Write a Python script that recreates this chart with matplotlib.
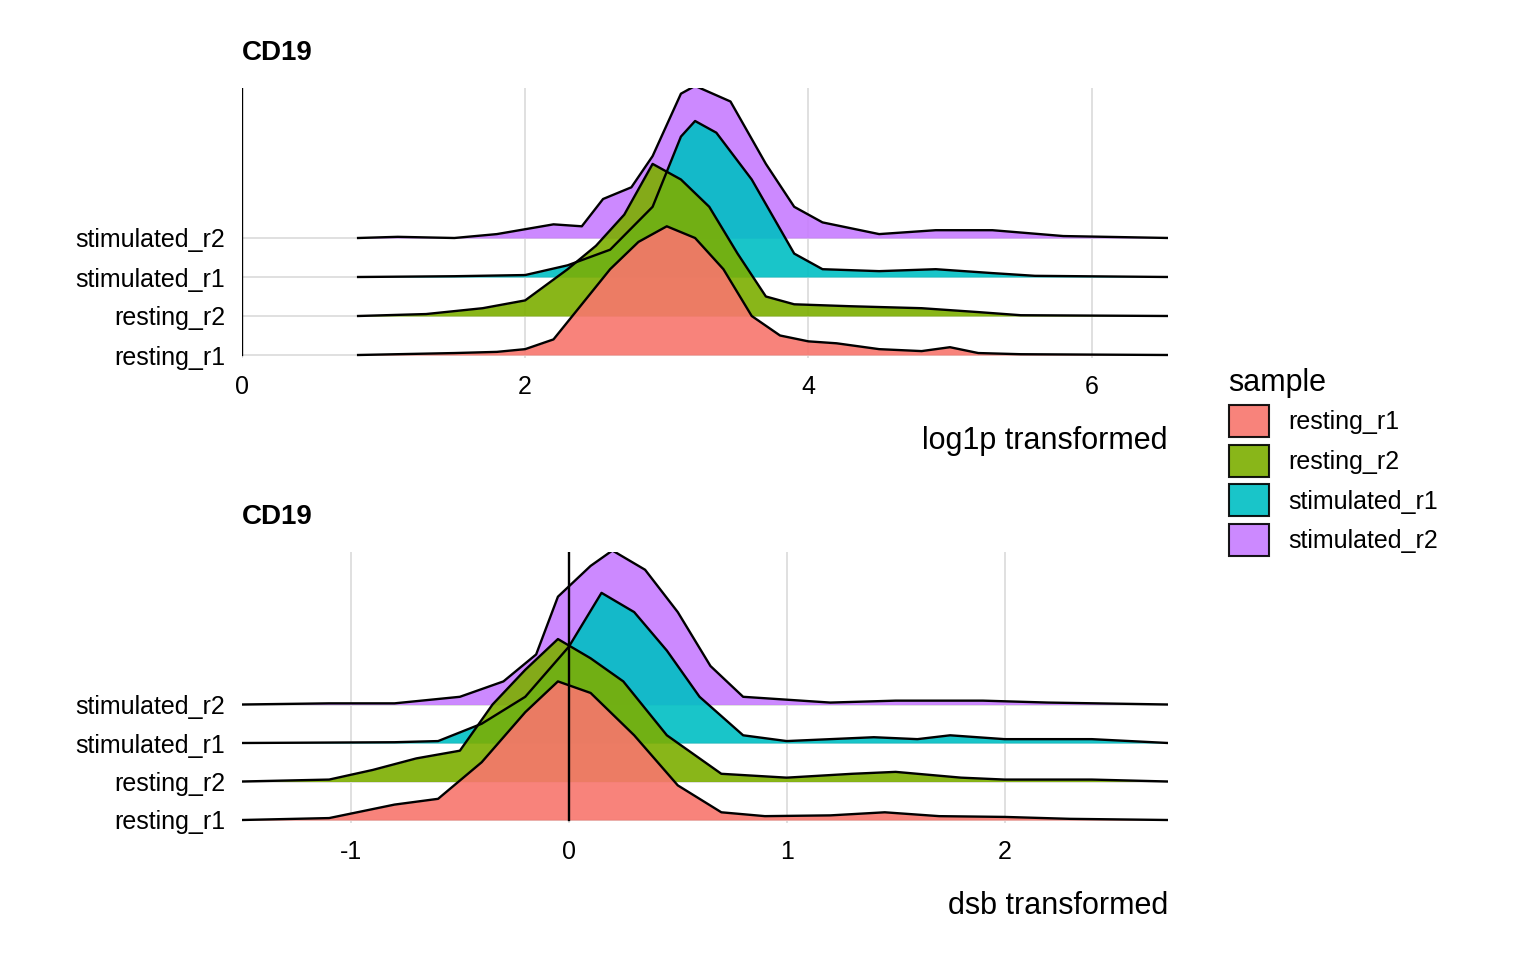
import matplotlib.pyplot as plt
from matplotlib.patches import Patch

plt.rcParams["font.family"] = ["Liberation Sans", "DejaVu Sans"]

samples = ["resting_r1", "resting_r2", "stimulated_r1", "stimulated_r2"]
colors = ["#F8766D", "#7CAE00", "#00BFC4", "#C77CFF"]

# log1p transformed: (x, height) points
log_x = [
    [0.82, 1.5, 1.8, 2.0, 2.2, 2.4, 2.6, 2.8, 3.0, 3.2, 3.4, 3.6, 3.8, 4.0, 4.2, 4.5, 4.8, 5.0, 5.2, 5.5, 6.55],
    [0.82, 1.3, 1.7, 2.0, 2.3, 2.5, 2.7, 2.9, 3.1, 3.3, 3.5, 3.7, 3.9, 4.3, 4.8, 5.2, 5.5, 6.55],
    [0.82, 1.5, 2.0, 2.3, 2.6, 2.9, 3.1, 3.2, 3.35, 3.6, 3.9, 4.1, 4.5, 4.9, 5.3, 5.6, 6.55],
    [0.82, 1.1, 1.5, 1.8, 2.2, 2.4, 2.55, 2.75, 2.9, 3.1, 3.2, 3.45, 3.7, 3.9, 4.1, 4.5, 4.9, 5.3, 5.8, 6.55],
]
log_h = [
    [0, 0.05, 0.08, 0.15, 0.4, 1.3, 2.2, 2.9, 3.3, 3.0, 2.2, 1.0, 0.5, 0.35, 0.3, 0.15, 0.1, 0.2, 0.05, 0.02, 0],
    [0, 0.05, 0.2, 0.4, 1.2, 1.8, 2.6, 3.9, 3.5, 2.8, 1.6, 0.5, 0.3, 0.25, 0.2, 0.1, 0.02, 0],
    [0, 0.02, 0.05, 0.3, 0.7, 1.8, 3.6, 4.0, 3.7, 2.5, 0.6, 0.2, 0.15, 0.2, 0.1, 0.03, 0],
    [0, 0.03, 0.0, 0.1, 0.35, 0.3, 1.0, 1.3, 2.1, 3.7, 3.9, 3.5, 1.9, 0.8, 0.4, 0.1, 0.2, 0.2, 0.05, 0],
]

# dsb transformed
dsb_x = [
    [-1.5, -1.1, -0.8, -0.6, -0.4, -0.2, -0.05, 0.1, 0.3, 0.5, 0.7, 0.9, 1.2, 1.45, 1.7, 2.0, 2.3, 2.75],
    [-1.5, -1.1, -0.9, -0.7, -0.5, -0.35, -0.2, -0.05, 0.1, 0.25, 0.45, 0.7, 1.0, 1.3, 1.5, 1.8, 2.0, 2.4, 2.75],
    [-1.5, -0.8, -0.6, -0.4, -0.2, 0.0, 0.15, 0.3, 0.45, 0.6, 0.8, 1.0, 1.4, 1.6, 1.75, 2.0, 2.4, 2.75],
    [-1.5, -1.1, -0.8, -0.5, -0.3, -0.15, -0.05, 0.1, 0.2, 0.35, 0.5, 0.65, 0.8, 1.2, 1.5, 1.9, 2.2, 2.75],
]
dsb_h = [
    [0, 0.05, 0.4, 0.55, 1.5, 2.8, 3.6, 3.3, 2.2, 0.9, 0.2, 0.1, 0.12, 0.2, 0.1, 0.08, 0.03, 0],
    [0, 0.05, 0.3, 0.6, 0.8, 2.0, 2.9, 3.7, 3.2, 2.6, 1.2, 0.2, 0.1, 0.2, 0.25, 0.1, 0.05, 0.05, 0],
    [0, 0.02, 0.05, 0.5, 1.2, 2.5, 3.9, 3.4, 2.4, 1.2, 0.2, 0.05, 0.15, 0.1, 0.2, 0.1, 0.1, 0],
    [0, 0.03, 0.03, 0.2, 0.6, 1.3, 2.8, 3.6, 4.0, 3.5, 2.4, 1.0, 0.2, 0.05, 0.1, 0.1, 0.05, 0],
]

W, H = 1536, 960
fig = plt.figure(figsize=(15.36, 9.6), dpi=100)
left, right = 242, 1168
ax1 = fig.add_axes([left / W, 1 - 358 / H, (right - left) / W, (358 - 88) / H])
ax2 = fig.add_axes([left / W, 1 - 823 / H, (right - left) / W, (823 - 552) / H])


def ridges(ax, xs, hs, xlim, ylim, ticks, xlabel, vline_top):
    for i in range(len(samples)):
        ax.axhline(i, color="#e0e0e0", lw=1.4, zorder=0)
    for i in reversed(range(len(samples))):
        y = [i + h for h in hs[i]]
        ax.fill_between(xs[i], i, y, color=colors[i], alpha=0.9, lw=0, zorder=2)
        ax.plot(xs[i], y, color="black", lw=1.7, zorder=3)
    for t in ticks:
        ax.axvline(t, color="#e0e0e0", lw=1.4, zorder=0)
    ax.plot([0, 0], [0, vline_top], color="black", lw=1.7, zorder=4)
    ax.set_xlim(*xlim)
    ax.set_ylim(*ylim)
    ax.set_xticks(ticks)
    ax.set_xticklabels([f"{t:g}" for t in ticks])
    ax.set_yticks(range(len(samples)))
    ax.set_yticklabels(samples)
    ax.tick_params(length=0, labelsize=18, pad=12)
    for s in ax.spines.values():
        s.set_visible(False)
    ax.set_xlabel(xlabel, fontsize=22, loc="right", labelpad=20)
    ax.set_title("CD19", loc="left", fontsize=20, fontweight="bold", pad=20)


ridges(ax1, log_x, log_h, (0, 6.54), (-3 / 39, 267 / 39), [0, 2, 4, 6],
       "log1p transformed", 267 / 39)
ridges(ax2, dsb_x, dsb_h, (-1.5, 2.75), (-3 / 38.5, 268 / 38.5), [-1, 0, 1, 2],
       "dsb transformed", 268 / 38.5)

handles = [Patch(facecolor=c, edgecolor="black", lw=1.5, alpha=0.9, label=s)
           for s, c in zip(samples, colors)]
fig.legend(handles=handles, title="sample", loc="upper left",
           bbox_to_anchor=(1206 / W, 1 - 345 / H), frameon=False,
           fontsize=18, title_fontsize=22, handlelength=1.6, handleheight=1.6,
           labelspacing=0.3, alignment="left")

fig.savefig("out.png", dpi=100)
